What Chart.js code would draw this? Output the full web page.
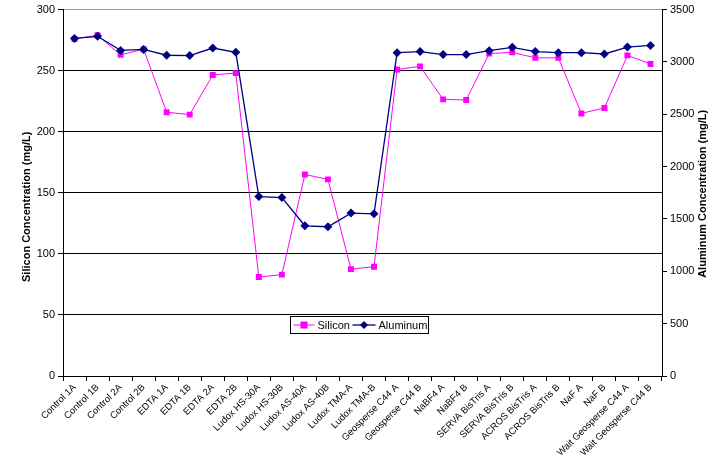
<!DOCTYPE html>
<html>
<head>
<meta charset="utf-8">
<script src="https://cdn.jsdelivr.net/npm/chart.js@4/dist/chart.umd.min.js"></script>
<style>
html,body{margin:0;padding:0;background:#fff;}
#wrap{width:716px;height:458px;position:relative;}
</style>
</head>
<body>
<div id="wrap"><canvas id="c" width="716" height="458"></canvas></div>
<script>
const categories = [
  "Control 1A","Control 1B","Control 2A","Control 2B",
  "EDTA 1A","EDTA 1B","EDTA 2A","EDTA 2B",
  "Ludox HS-30A","Ludox HS-30B","Ludox AS-40A","Ludox AS-40B",
  "Ludox TMA-A","Ludox TMA-B","Geosperse C44 A","Geosperse C44 B",
  "NaBF4 A","NaBF4 B","SERVA BisTris A","SERVA BisTris B",
  "ACROS BisTris A","ACROS BisTris B","NaF A","NaF B",
  "Wait Geosperse C44 A","Wait Geosperse C44 B"
];
const silicon = [276, 279, 263, 267.5, 216, 214, 246.5, 248, 81, 83, 165, 161, 87.5, 89.5,
  251, 253.5, 226.5, 226, 264, 265, 260.5, 260.5, 215, 219.5, 262.5, 255.5];
const aluminum = [3225, 3245, 3110, 3120, 3064, 3061, 3133, 3092, 1714, 1704, 1435, 1426, 1556, 1549,
  3089, 3099, 3070, 3070, 3108, 3140, 3099, 3089, 3089, 3076, 3142, 3158];
const leftTicks = {min: 0, max: 300, step: 50};
const rightTicks = {min: 0, max: 3500, step: 500};
const leftTitle = 'Silicon Concentration (mg/L)';
const rightTitle = 'Aluminum Concentration (mg/L)';

const FONT = "'Liberation Sans', Arial, sans-serif";

const extras = {
  id: 'extras',
  afterDraw(chart) {
    const ctx = chart.ctx;
    const ca = chart.chartArea;
    ctx.save();
    // axis titles (both read bottom-to-top)
    ctx.font = "bold 11px " + FONT;
    ctx.fillStyle = '#000';
    ctx.textAlign = 'center';
    ctx.textBaseline = 'middle';
    ctx.save();
    ctx.translate(27, (ca.top + ca.bottom) / 2 + 14);
    ctx.rotate(-Math.PI / 2);
    ctx.fillText(leftTitle, 0, 0);
    ctx.restore();
    ctx.save();
    ctx.translate(ca.right + 41, (ca.top + ca.bottom) / 2 + 1);
    ctx.rotate(-Math.PI / 2);
    ctx.fillText(rightTitle, 0, 0);
    ctx.restore();

    // legend
    const w = 138, h = 17;
    const cx = (ca.left + ca.right) / 2 - 4;
    const x0 = Math.round(cx - w / 2) + 0.5;
    const y0 = Math.round(ca.bottom - 60) + 0.5;
    ctx.fillStyle = '#fff';
    ctx.fillRect(x0, y0, w, h);
    ctx.strokeStyle = '#000';
    ctx.lineWidth = 1;
    ctx.strokeRect(x0, y0, w, h);
    const yc = y0 + h / 2;
    ctx.font = "11px " + FONT;
    ctx.textAlign = 'left';
    ctx.textBaseline = 'middle';
    ctx.strokeStyle = '#FF00FF';
    ctx.beginPath(); ctx.moveTo(x0 + 3, yc); ctx.lineTo(x0 + 24, yc); ctx.stroke();
    ctx.fillStyle = '#FF00FF';
    ctx.fillRect(x0 + 10, yc - 3.5, 7, 7);
    ctx.fillStyle = '#000';
    ctx.fillText('Silicon', x0 + 27, yc + 0.5);
    ctx.strokeStyle = '#000080';
    ctx.lineWidth = 1.3;
    ctx.beginPath(); ctx.moveTo(x0 + 62, yc); ctx.lineTo(x0 + 85, yc); ctx.stroke();
    ctx.fillStyle = '#000080';
    ctx.beginPath();
    const dx = x0 + 73.5;
    ctx.moveTo(dx, yc - 4); ctx.lineTo(dx + 4, yc); ctx.lineTo(dx, yc + 4); ctx.lineTo(dx - 4, yc); ctx.closePath();
    ctx.fill();
    ctx.fillStyle = '#000';
    ctx.fillText('Aluminum', x0 + 88, yc + 0.5);
    ctx.restore();
  }
};

new Chart(document.getElementById('c'), {
  type: 'line',
  data: {
    labels: categories,
    datasets: [
      {
        label: 'Silicon',
        data: silicon,
        yAxisID: 'y',
        borderColor: '#FF00FF',
        backgroundColor: '#FF00FF',
        borderWidth: 1,
        pointStyle: 'rect',
        pointRadius: 4.2,
        pointBorderWidth: 0,
        tension: 0,
        order: 2
      },
      {
        label: 'Aluminum',
        data: aluminum,
        yAxisID: 'y1',
        borderColor: '#000080',
        backgroundColor: '#000080',
        borderWidth: 1.3,
        pointStyle: 'rectRot',
        pointRadius: 4.5,
        pointBorderWidth: 0,
        tension: 0,
        order: 1
      }
    ]
  },
  options: {
    responsive: false,
    animation: false,
    devicePixelRatio: 1,
    layout: {padding: {top: 7, left: 0, right: 0, bottom: 0}},
    plugins: {legend: {display: false}, tooltip: {enabled: false}},
    scales: {
      x: {
        type: 'category',
        offset: true,
        grid: {
          offset: true,
          drawOnChartArea: false,
          drawTicks: true,
          tickLength: 5,
          color: '#000'
        },
        border: {color: '#000', width: 1},
        ticks: {
          autoSkip: false,
          maxRotation: 45,
          minRotation: 45,
          color: '#000',
          font: {family: FONT, size: 9.5},
          padding: 1
        },
        afterFit(s) { s.height = 82; }
      },
      y: {
        position: 'left',
        min: leftTicks.min,
        max: leftTicks.max,
        ticks: {stepSize: leftTicks.step, color: '#000', font: {family: FONT, size: 11}, padding: 3,
          callback: (v) => String(v)},
        grid: {
          color: (c) => (c.tick && c.tick.value === leftTicks.max) ? '#9a9a9a' : (c.tick && c.tick.value === 0 ? 'rgba(0,0,0,0)' : '#000'),
          lineWidth: 1,
          drawTicks: true,
          tickLength: 5,
          tickColor: '#000'
        },
        border: {color: '#000', width: 1},
        afterFit(s) { s.width = 63; }
      },
      y1: {
        position: 'right',
        min: rightTicks.min,
        max: rightTicks.max,
        ticks: {stepSize: rightTicks.step, color: '#000', font: {family: FONT, size: 11}, padding: 3,
          callback: (v) => String(v)},
        grid: {drawOnChartArea: false, drawTicks: true, tickLength: 5, tickColor: '#000'},
        border: {color: '#000', width: 1},
        afterFit(s) { s.width = 54; }
      }
    }
  },
  plugins: [extras]
});
</script>
</body>
</html>
